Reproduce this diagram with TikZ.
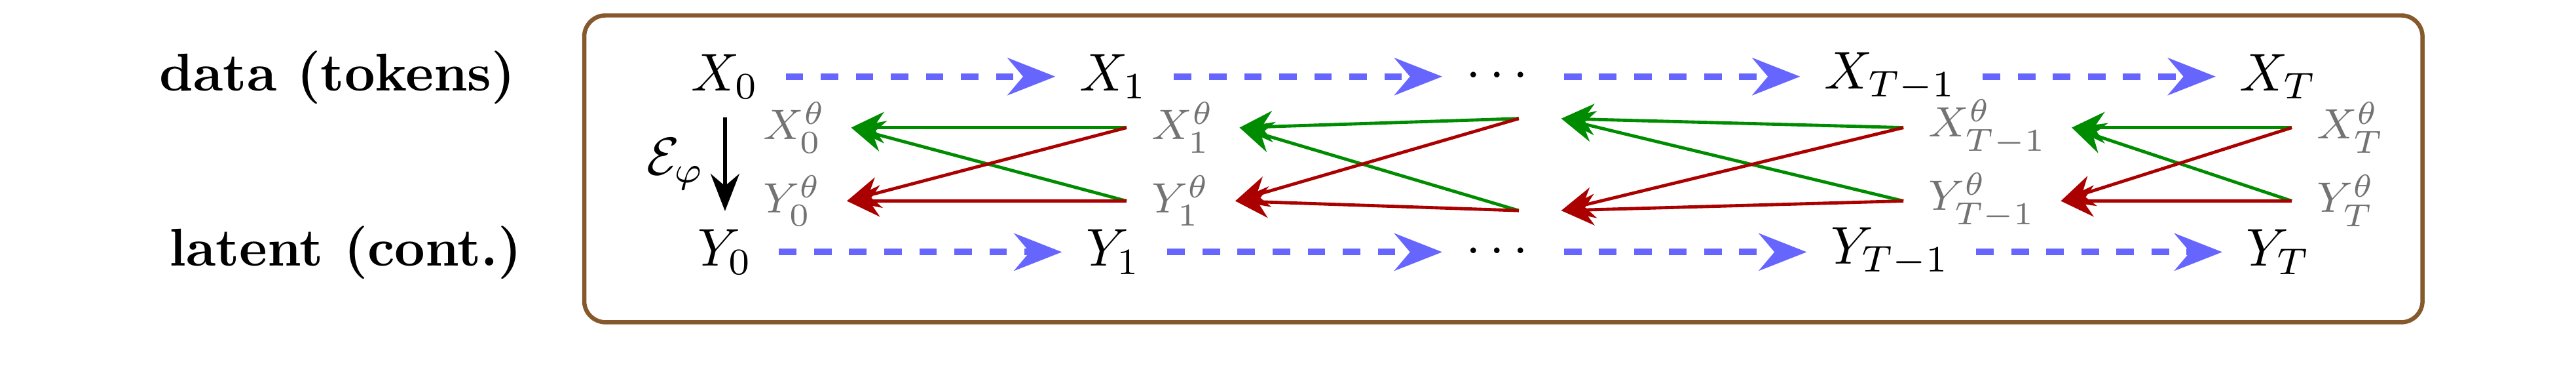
\documentclass[tikz,border=0pt]{standalone}
\usepackage{amsmath,amssymb}
\usepackage{tikz}
\usetikzlibrary{arrows.meta,positioning}

\begin{document}
\begin{tikzpicture}[>=Stealth,
  ghost/.style={text=black!55,font=\footnotesize,inner xsep=4.5pt,inner ysep=0.5pt,anchor=west},
  flow/.style={very thick,blue!60,dash pattern=on 3.3pt off 3.3pt,>={Stealth[length=9pt,width=7pt]},->,shorten <=1.5pt,shorten >=1pt},
  tox/.style={semithick,green!55!black,>={Stealth[length=6.2pt,width=5.9pt]},->},
  toy/.style={semithick,red!67!black,>={Stealth[length=6.2pt,width=5.9pt]},->}]
\useasboundingbox (-136.5pt,-57.2pt) rectangle (348.5pt,14.4pt);
\draw[line width=0.8pt,brown!70!black,rounded corners=4pt] (-26.5pt,-46.2pt) rectangle (319.6pt,11.5pt);

% data row and latent row
\node (x0) at (0,0) {$X_0$};
\node (x1) at (2.57cm,0) {$X_1$};
\node (xd) at (5.14cm,0) {$\cdots$};
\node (xm) at (7.71cm,0) {$X_{T-1}$};
\node (xT) at (10.28cm,0) {$X_T$};
\node (y0) at (0,-33pt) {$Y_0$};
\node (y1) at (2.57cm,-33pt) {$Y_1$};
\node (yd) at (5.14cm,-33pt) {$\cdots$};
\node (ym) at (7.71cm,-33pt) {$Y_{T-1}$};
\node (yT) at (10.28cm,-33pt) {$Y_T$};
\node[base left=26pt of x0] (ldata) {\textbf{data (tokens)}};
\node[base left=26pt of y0] (llat) {\textbf{latent (cont.)}};

% model predictions
\node[ghost] (px0) at ([shift={(2.5pt,-9.6pt)}]x0.center) {$X^\theta_0$};
\node[ghost] (py0) at ([shift={(2.5pt,9.6pt)}]y0.center) {$Y^\theta_0$};
\node[ghost] (px1) at ([shift={(2.5pt,-9.6pt)}]x1.center) {$X^\theta_1$};
\node[ghost] (py1) at ([shift={(2.5pt,9.6pt)}]y1.center) {$Y^\theta_1$};
\node[ghost] (pxm) at ([shift={(2.5pt,-9.6pt)}]xm.center) {$X^\theta_{T-1}$};
\node[ghost] (pym) at ([shift={(2.5pt,9.6pt)}]ym.center) {$Y^\theta_{T-1}$};
\node[ghost] (pxT) at ([shift={(2.5pt,-9.6pt)}]xT.center) {$X^\theta_T$};
\node[ghost] (pyT) at ([shift={(2.5pt,9.6pt)}]yT.center) {$Y^\theta_T$};
\coordinate (dlx) at ([shift={(3.2pt,-7.9pt)}]xd.center);
\coordinate (dly) at ([shift={(3.2pt,7.8pt)}]yd.center);
\coordinate (drx) at ([shift={(11.2pt,-7.9pt)}]xd.center);
\coordinate (dry) at ([shift={(11.2pt,7.8pt)}]yd.center);

\draw[flow] (x0)--(x1); \draw[flow] (x1)--(xd); \draw[flow] (xd)--(xm); \draw[flow] (xm)--(xT);
\draw[flow] (y0)--(y1); \draw[flow] (y1)--(yd); \draw[flow] (yd)--(ym); \draw[flow] (ym)--(yT);
\draw[->,thick,>={Stealth[length=7pt,width=5.4pt]}] (x0) -- node[left] {$\mathcal{E}_\varphi$} (y0);

\draw[tox] (px1.west)--(px0.east); \draw[tox] (py1.west)--(px0.east);
\draw[toy] (px1.west)--(py0.east); \draw[toy] (py1.west)--(py0.east);
\draw[tox] (dlx)--(px1.east); \draw[tox] (dly)--(px1.east);
\draw[toy] (dlx)--(py1.east); \draw[toy] (dly)--(py1.east);
\draw[tox] (pxm.west)--(drx); \draw[tox] (pym.west)--(drx);
\draw[toy] (pxm.west)--(dry); \draw[toy] (pym.west)--(dry);
\draw[tox] (pxT.west)--(pxm.east); \draw[tox] (pyT.west)--(pxm.east);
\draw[toy] (pxT.west)--(pym.east); \draw[toy] (pyT.west)--(pym.east);
\end{tikzpicture}
\end{document}
